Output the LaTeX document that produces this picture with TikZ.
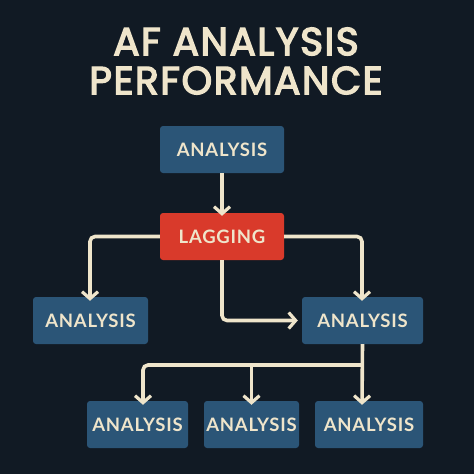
\documentclass[tikz,border=0pt]{standalone}
\usepackage{fontspec}
\setmainfont{Lato}
\newfontfamily\titlefont[FakeBold=3.5,LetterSpace=4]{Poppins}
\newfontfamily\boxfont[LetterSpace=4]{Lato}
\usetikzlibrary{arrows.meta}
\definecolor{bgc}{HTML}{111A24}
\definecolor{cream}{HTML}{EFE5CB}
\definecolor{boxblue}{HTML}{2B5577}
\definecolor{lagred}{HTML}{D93A2B}
\tikzset{
  box/.style={fill=boxblue, rounded corners=3pt, text=cream, font=\boxfont\fontsize{18.5}{18.5}\selectfont\bfseries, inner sep=0pt, anchor=center},
  redbox/.style={box, fill=lagred},
  conn/.style={draw=cream, line width=3.6pt, rounded corners=5pt, -{Straight Barb[length=7pt,width=16pt,line width=3.2pt]}},
}
\begin{document}
\begin{tikzpicture}[x=1pt,y=-1pt]
\fill[bgc] (0,0) rectangle (474,474);
\useasboundingbox (0,0) rectangle (474,474);
\node[text=cream, font=\titlefont\fontsize{39}{39}\selectfont, align=center] (title) at (236,61) {AF ANALYSIS\\PERFORMANCE};
\node[box, minimum width=124pt, minimum height=47pt] (a0) at (222,149.5) {ANALYSIS};
\node[redbox, minimum width=124pt, minimum height=47pt] (lag) at (222,236.5) {LAGGING};
\node[box, minimum width=115pt, minimum height=47pt] (l) at (90.5,320.5) {ANALYSIS};
\node[box, minimum width=121pt, minimum height=47pt] (r) at (362.5,320.5) {ANALYSIS};
\node[box, minimum width=101pt, minimum height=47pt] (b1) at (137.5,424.5) {ANALYSIS};
\node[box, minimum width=95pt, minimum height=47pt] (b2) at (251.5,424.5) {ANALYSIS};
\node[box, minimum width=108pt, minimum height=47pt] (b3) at (369,424.5) {ANALYSIS};
\coordinate (j) at (362,365);
\draw[conn] (a0.south) -- ([yshift=-3pt]lag.north);
\draw[conn] (lag.west) -| ([xshift=-0.5pt,yshift=-4pt]l.north);
\draw[conn] (lag.east) -| ([xshift=-0.5pt,yshift=-4pt]r.north);
\draw[conn] (lag.south) |- ([xshift=-4pt]r.west);
\draw[conn] (r.south) -- ([xshift=-7pt,yshift=-4pt]b3.north);
\draw[conn] (j) -| ([xshift=5.5pt,yshift=-4pt]b1.north);
\draw[conn] (j -| b2.north) -- ([yshift=-4pt]b2.north);
\end{tikzpicture}
\end{document}
